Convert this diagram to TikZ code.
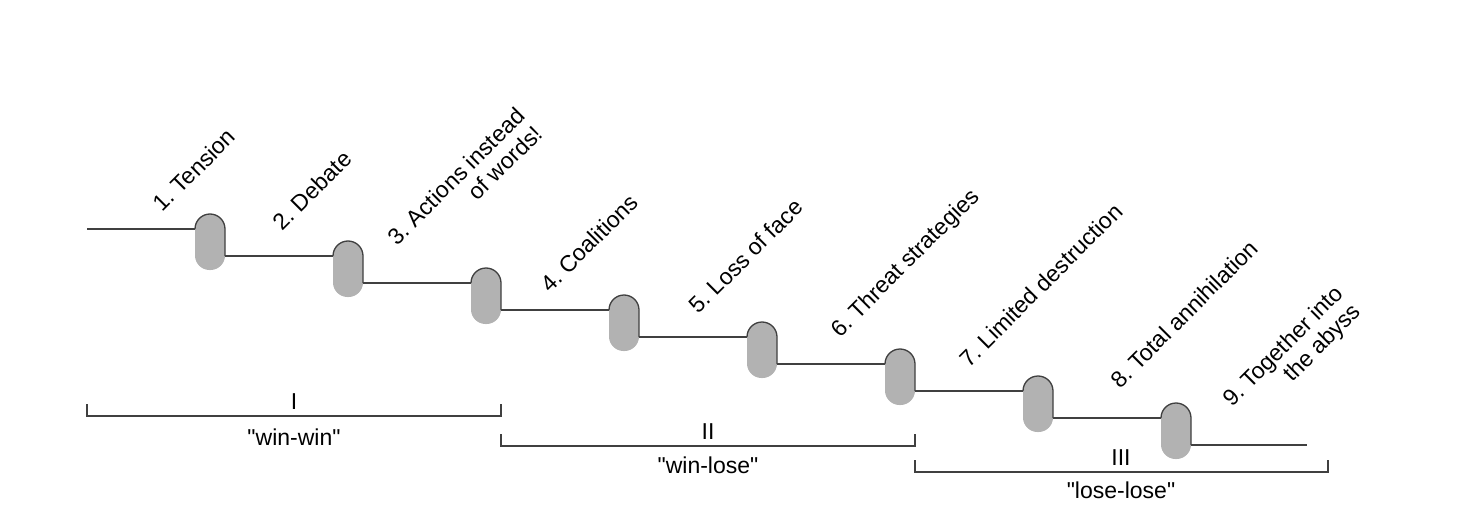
\documentclass[tikz,border=0pt]{standalone}
\usepackage{fontspec}
\setmainfont{Liberation Sans}[Ligatures=TeXOff]
\frenchspacing
\begin{document}
\begin{tikzpicture}[x=1pt,y=-1pt,
  ln/.style={draw=black!75,line width=1.3pt},
  pill/.style={fill=black!30,draw=none},
  lab/.style={rotate=45,font=\fontsize{23}{25}\selectfont,align=right,inner sep=0pt},
  brk/.style={draw=black!75,line width=1.2pt},
  blab/.style={font=\fontsize{23}{25}\selectfont,inner sep=0pt}]
\useasboundingbox (0,0) rectangle (1464,524);
\coordinate (start) at (87,229);
\foreach \i in {1,...,8}{
  \pgfmathsetmacro{\cx}{210+138*(\i-1)}
  \pgfmathsetmacro{\ty}{214+27*(\i-1)}
  \fill[pill,rounded corners=14.5pt] (\cx-15,\ty) rectangle (\cx+15,\ty+56);
  \coordinate (l\i) at (\cx-15,\ty+15);
  \coordinate (r\i) at (\cx+15,\ty+42);
  \draw[ln] (\cx-15,\ty+15) arc[start angle=180,end angle=360,radius=15] -- (r\i);
}
\coordinate (finish) at (1307,445);
\draw[ln] (start) -- (l1);
\foreach \a/\b in {1/2,2/3,3/4,4/5,5/6,6/7,7/8}{\draw[ln] (r\a) -- (l\b);}
\draw[ln] (r8) -- (finish);
\node[lab] (t1) at (194,170) {1. Tension};
\node[lab] (t2) at (312,190) {2. Debate};
\node[lab] (t3) at (465,185) {3. Actions instead\\of words!};
\node[lab] (t4) at (589,243) {4. Coalitions};
\node[lab] (t5) at (746,256) {5. Loss of face};
\node[lab] (t6) at (906,264) {6. Threat strategies};
\node[lab] (t7) at (1041,285) {7. Limited destruction};
\node[lab] (t8) at (1184,314) {8. Total annihilation};
\node[lab] (t9) at (1293,356) {9. Together into\\the abyss};
\draw[brk] (87,404) -- (87,416) -- (501,416) -- (501,404);
\draw[brk] (501,434) -- (501,446) -- (915,446) -- (915,434);
\draw[brk] (915,460) -- (915,472) -- (1328,472) -- (1328,460);
\node[blab] (p1) at (294,402) {I};
\node[blab] (q1) at (294,437) {"win-win"};
\node[blab] (p2) at (708,432) {II};
\node[blab] (q2) at (708,465) {"win-lose"};
\node[blab] (p3) at (1121,458) {III};
\node[blab] (q3) at (1121,490) {"lose-lose"};
\end{tikzpicture}
\end{document}
